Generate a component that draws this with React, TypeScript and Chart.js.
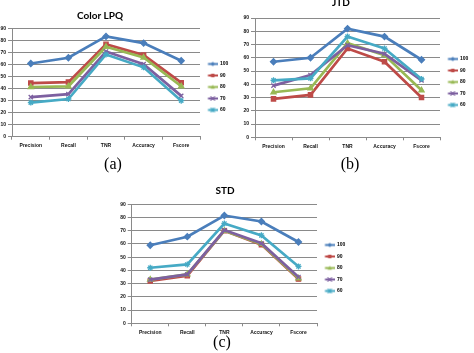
import React, { useEffect, useRef } from 'react';
import { Chart, registerables } from 'chart.js';

Chart.register(...registerables);

// ---------- data ----------
const categories = ['Precision', 'Recall', 'TNR', 'Accuracy', 'Fscore'];
const seriesNames = ['100', '90', '80', '70', '60'];
const yMin = 0;
const yMax = 90;
const yStep = 10;

const lpq100 = [61, 65.8, 83.6, 78, 63.3];
const lpq90 = [44.7, 45.5, 77, 68, 45];
const lpq80 = [41.4, 42, 75, 66, 42];
const lpq70 = [33, 35.5, 71, 60.5, 34];
const lpq60 = [28.4, 31.4, 68.5, 57.8, 30];

const jtd100 = [57, 60, 82, 76, 58.5];
const jtd90 = [29, 32, 67, 57, 30];
const jtd80 = [34, 37, 71, 62, 35.5];
const jtd70 = [39, 47, 69.5, 63, 43];
const jtd60 = [43, 44.5, 76, 67, 44];

const std100 = [59, 65.5, 81.5, 77, 61.5];
const std90 = [32, 36, 70, 59.5, 33.5];
const std80 = [33, 37, 70, 60, 34];
const std70 = [33, 37, 70.5, 60.5, 35];
const std60 = [42, 44.5, 75.5, 66.5, 43];

// ---------- styles ----------
const colors = ['#4A7EBB', '#BE4B48', '#98B954', '#7D60A0', '#46AAC5'];
const markers = ['rectRot', 'rect', 'triangle', 'crossRot', 'star'];
const gridColor = '#8a8a8a';

type Geo = {
  left: number; top: number; width: number; height: number;
  yW: number; xH: number; tpTop: number; tpBottom: number;
};

function legendIcon(color: string, marker: string): HTMLCanvasElement {
  const c = document.createElement('canvas');
  c.width = 11;
  c.height = 7;
  const ctx = c.getContext('2d')!;
  ctx.strokeStyle = color;
  ctx.fillStyle = color;
  ctx.lineWidth = 2;
  ctx.beginPath();
  ctx.moveTo(1.5, 3.5);
  ctx.lineTo(11, 3.5);
  ctx.stroke();
  const cx = 6.25, cy = 3.5, r = 2.2;
  ctx.lineWidth = 1.1;
  ctx.beginPath();
  if (marker === 'rectRot') {
    ctx.moveTo(cx, cy - r); ctx.lineTo(cx + r, cy); ctx.lineTo(cx, cy + r); ctx.lineTo(cx - r, cy); ctx.closePath(); ctx.fill();
  } else if (marker === 'rect') {
    ctx.rect(cx - r * 0.8, cy - r * 0.8, r * 1.6, r * 1.6); ctx.fill();
  } else if (marker === 'triangle') {
    ctx.moveTo(cx, cy - r); ctx.lineTo(cx + r, cy + r * 0.8); ctx.lineTo(cx - r, cy + r * 0.8); ctx.closePath(); ctx.fill();
  } else if (marker === 'crossRot') {
    ctx.moveTo(cx - r, cy - r); ctx.lineTo(cx + r, cy + r); ctx.moveTo(cx + r, cy - r); ctx.lineTo(cx - r, cy + r); ctx.stroke();
  } else {
    ctx.moveTo(cx - r, cy - r); ctx.lineTo(cx + r, cy + r); ctx.moveTo(cx + r, cy - r); ctx.lineTo(cx - r, cy + r);
    ctx.moveTo(cx, cy - r); ctx.lineTo(cx, cy + r); ctx.stroke();
  }
  return c;
}

function Panel({ title, series, geo }: { title: string; series: number[][]; geo: Geo }) {
  const ref = useRef<HTMLCanvasElement>(null);
  useEffect(() => {
    if (!ref.current) return;
    const icons = seriesNames.map((_, i) => legendIcon(colors[i], markers[i]));
    const chart = new Chart(ref.current, {
      type: 'line',
      data: {
        labels: categories,
        datasets: series.map((vals, i) => ({
          label: seriesNames[i],
          data: vals,
          borderColor: colors[i],
          backgroundColor: colors[i],
          borderWidth: 2.7,
          pointStyle: markers[i] as any,
          pointRadius: 3,
          pointBorderWidth: 1.3,
          pointBackgroundColor: colors[i],
          pointBorderColor: colors[i],
          tension: 0,
          fill: false,
          order: seriesNames.length - 1 - i,
        })),
      },
      options: {
        responsive: false,
        animation: false,
        devicePixelRatio: 1,
        layout: { autoPadding: false, padding: 0 },
        plugins: {
          tooltip: { enabled: false },
          title: {
            display: true,
            text: title,
            color: '#000',
            font: { family: 'Lato', size: 10, weight: 'bold' },
            padding: { top: geo.tpTop, bottom: geo.tpBottom },
          },
          legend: {
            display: true,
            position: 'right',
            maxWidth: 34,
            labels: {
              usePointStyle: true,
              pointStyleWidth: 11,
              padding: 6.5,
              color: '#000',
              font: { family: 'Liberation Sans', size: 5, weight: 'bold' },
              generateLabels: (ch: any) =>
                ch.data.datasets.map((ds: any, i: number) => ({
                  text: ds.label,
                  fillStyle: colors[i],
                  strokeStyle: colors[i],
                  lineWidth: 0,
                  pointStyle: icons[i],
                  hidden: false,
                  datasetIndex: i,
                  fontColor: '#000',
                })),
            },
          },
        },
        scales: {
          x: {
            type: 'category',
            offset: true,
            afterFit: (s: any) => { s.height = geo.xH; },
            grid: { display: true, drawOnChartArea: false, offset: true, tickLength: 3, color: gridColor },
            border: { display: true, color: gridColor },
            ticks: {
              autoSkip: false, maxRotation: 0, padding: 3, color: '#111',
              font: { family: 'Liberation Sans', size: 5, weight: 'bold' },
            },
          },
          y: {
            min: yMin,
            max: yMax,
            afterFit: (s: any) => { s.width = geo.yW; },
            grid: { color: gridColor, tickLength: 4 },
            border: { display: true, color: gridColor },
            ticks: {
              stepSize: yStep, padding: 2, color: '#111',
              font: { family: 'Liberation Sans', size: 5, weight: 'bold' },
            },
          },
        },
      } as any,
    });
    return () => chart.destroy();
  }, []);
  return (
    <canvas
      ref={ref}
      width={geo.width}
      height={geo.height}
      style={{ position: 'absolute', left: geo.left, top: geo.top, width: geo.width, height: geo.height }}
    />
  );
}

const captionStyle = (x: number, y: number): React.CSSProperties => ({
  position: 'absolute',
  left: x - 20,
  top: y - 10,
  width: 40,
  height: 20,
  lineHeight: '20px',
  textAlign: 'center',
  fontFamily: '"Liberation Serif", "Times New Roman", serif',
  fontSize: 16,
  color: '#000',
});

export default function App() {
  return (
    <div style={{ position: 'absolute', left: 0, top: 0, width: 474, height: 353, overflow: 'hidden', background: '#fff' }}>
      <Panel
        title="Color LPQ"
        series={[lpq100, lpq90, lpq80, lpq70, lpq60]}
        geo={{ left: -34, top: 0, width: 268, height: 174, yW: 46, xH: 37.3, tpTop: 10, tpBottom: 6.7 }}
      />
      <Panel
        title="JTD"
        series={[jtd100, jtd90, jtd80, jtd70, jtd60]}
        geo={{ left: 208, top: -10, width: 266, height: 184, yW: 47, xH: 36.7, tpTop: 7, tpBottom: 9 }}
      />
      <Panel
        title="STD"
        series={[std100, std90, std80, std70, std60]}
        geo={{ left: 99, top: 170, width: 252, height: 196, yW: 32.7, xH: 42.7, tpTop: 15, tpBottom: 7.3 }}
      />
      <div style={captionStyle(113, 164)}>(a)</div>
      <div style={captionStyle(350, 164)}>(b)</div>
      <div style={captionStyle(222, 342)}>(c)</div>
    </div>
  );
}
